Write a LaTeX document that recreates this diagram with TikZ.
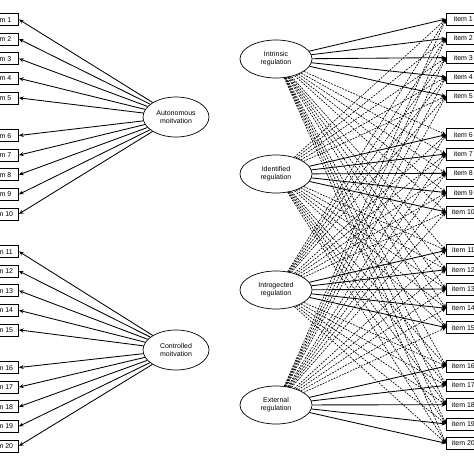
\documentclass[tikz,border=0pt]{standalone}
\usepackage{fontspec}
\setmainfont{Liberation Sans}
\usetikzlibrary{shapes.geometric,arrows.meta}
\tikzstyle{item} = [rectangle, draw, line width=0.7pt, fill=white, minimum width=34pt,
    minimum height=12pt, inner sep=1pt, font=\fontsize{7}{7.5}\selectfont]
\tikzstyle{factor} = [ellipse, draw, line width=0.7pt, fill=white, align=center,
    inner sep=0pt, font=\fontsize{7}{8}\selectfont]
\tikzstyle{load} = [-{Stealth[length=4.5pt,width=4pt]}, line width=0.85pt]
\tikzstyle{cross} = [-{Stealth[length=4.5pt,width=4pt]}, line width=0.65pt, dash pattern=on 1.8pt off 1.2pt]

\begin{document}
\begin{tikzpicture}[x=1pt, y=-1pt]
\useasboundingbox (0,0) rectangle (474,474);

% left: two higher order factors
\foreach \i [evaluate=\i as \yy using {19.5+116*int((\i-1)/5)+19.6*mod(\i-1,5)}] in {1,...,20}
  \node[item, anchor=east] (L\i) at (19,\yy) {item \i};

\node[factor, minimum width=66pt, minimum height=40pt] (auto) at (176,117) {Autonomous\\moitvation};
\node[factor, minimum width=66pt, minimum height=40pt] (ctrl) at (176,350) {Controlled\\moitvation};

\foreach \i in {1,...,10}
  \draw[load] (auto) -- (L\i.east);
\foreach \i in {11,...,20}
  \draw[load] (ctrl) -- (L\i.east);

% right: four regulation factors with cross loadings
\foreach \i [evaluate=\i as \yy using {19+115.7*int((\i-1)/5)+19.3*mod(\i-1,5)}] in {1,...,20}
  \node[item, anchor=west] (R\i) at (446,\yy) {item \i};

\node[factor, minimum width=72pt, minimum height=38pt] (intr) at (276,59) {Intrinsic\\regulation};
\node[factor, minimum width=72pt, minimum height=38pt] (iden) at (276,174) {Identified\\regulation};
\node[factor, minimum width=72pt, minimum height=38pt] (intro) at (276,290) {Introgected\\regulation};
\node[factor, minimum width=72pt, minimum height=38pt] (extr) at (276,405) {External\\regulation};

\foreach \f [count=\g from 0] in {intr,iden,intro,extr}
  \foreach \i in {1,...,20}{
    \pgfmathtruncatemacro{\grp}{(\i-1)/5}
    \ifnum\grp=\g
      \draw[load] (\f) -- (R\i.west);
    \else
      \draw[cross] (\f) -- (R\i.west);
    \fi
  }
\end{tikzpicture}
\end{document}
